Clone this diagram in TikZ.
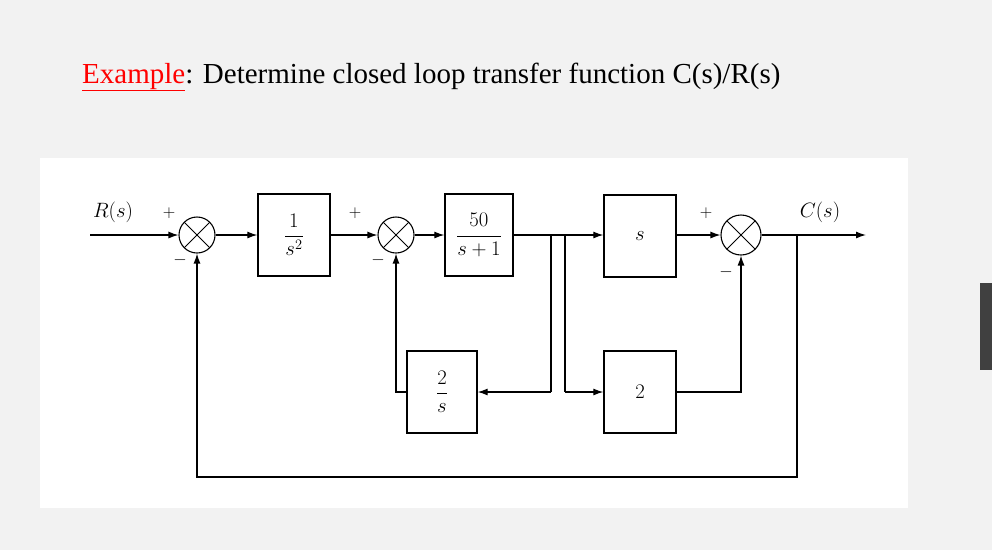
\documentclass[tikz,border=0pt]{standalone}
\usepackage{fontspec}
\setmainfont{Liberation Serif}
\usetikzlibrary{arrows.meta}
\begin{document}
\begin{tikzpicture}[x=1pt,y=-1pt,
  blk/.style={draw,line width=1.3pt,minimum width=72pt,minimum height=82pt,inner sep=0pt,font=\fontsize{20}{22}\selectfont},
  sumj/.style={draw,line width=1.1pt,circle,minimum size=36pt,inner sep=0pt,path picture={\draw[line width=0.9pt] (path picture bounding box.north west)--(path picture bounding box.south east) (path picture bounding box.north east)--(path picture bounding box.south west);}},
  ln/.style={line width=1.2pt},
  ar/.style={line width=1.2pt,-{Latex[length=10pt,width=7pt]}},
  sg/.style={font=\fontsize{18}{18}\selectfont}]
\useasboundingbox (0,0) rectangle (992,550);
\fill[gray!10] (0,0) rectangle (992,550);
\fill[white] (40,158) rectangle (908,508);
\fill[black!75] (980,283) rectangle (992,370);
\node[anchor=base west,font=\fontsize{29}{32}\selectfont,inner sep=0pt] (title) at (82,83) {\textcolor{red}{\underline{Example}}: Determine closed loop transfer function C(s)/R(s)};
% nodes
\coordinate (rin) at (90,235);
\node[sumj] (s1) at (197,235) {};
\node[blk] (b1) at (294,235) {$\displaystyle\frac{1}{s^2}$};
\node[sumj] (s2) at (396,235) {};
\node[blk,minimum width=68pt] (b2) at (479,235) {$\displaystyle\frac{50}{s+1}$};
\coordinate (p1) at (551,235);
\coordinate (p2) at (565,235);
\node[blk] (b3) at (640,236) {$s$};
\node[sumj,minimum size=40pt] (s3) at (741,235) {};
\coordinate (pout) at (797,235);
\coordinate (cout) at (866,235);
\node[blk,minimum width=70pt] (b4) at (442,392) {$\displaystyle\frac{2}{s}$};
\node[blk] (b5) at (640,392) {$2$};
\coordinate (q1) at (551,392);
\coordinate (q2) at (565,392);
% labels
\node[sg,font=\fontsize{20}{20}\selectfont] (lr) at (113,212) {$R(s)$};
\node[sg,font=\fontsize{20}{20}\selectfont] (lc) at (820,212) {$C(s)$};
\node[sg] (a1) at (169,213) {$+$};
\node[sg] (m1) at (180,260) {$-$};
\node[sg] (a2) at (355,213) {$+$};
\node[sg] (m2) at (378,260) {$-$};
\node[sg] (a3) at (706,213) {$+$};
\node[sg] (m3) at (726,272) {$-$};
% connectors
\draw[ar] (rin) -- (s1);
\draw[ar] (s1) -- (b1);
\draw[ar] (b1) -- (s2);
\draw[ar] (s2) -- (b2);
\draw[ln] (b2.east |- p1) -- (p2);
\draw[ar] (p2) -- (b3.west |- p2);
\draw[ar] (b3.east |- s3) -- (s3);
\draw[ar] (s3) -- (cout);
\draw[ln] (p1) -- (q1);
\draw[ar] (q1) -- (b4.east |- q1);
\draw[ln] (p2) -- (q2);
\draw[ar] (q2) -- (b5.west |- q2);
\draw[ar] (b4.west |- q1) -| (s2);
\draw[ar] (b5.east |- q2) -| (s3);
\draw[ar] (pout) |- (197,477) -- (s1);
\end{tikzpicture}
\end{document}
